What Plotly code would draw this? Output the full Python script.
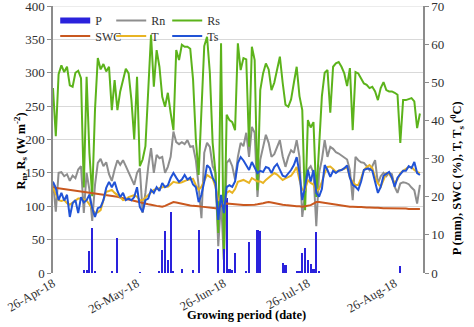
import pandas as pd
import plotly.graph_objects as go

# Daily series, 26 Apr 2018 onwards
start_date = "2018-04-26"
n_days = 132

# Net (Rn) and solar (Rs) radiation, W m-2
Rn = [137, 92, 150, 151, 145, 148, 138, 146, 142, 155, 160, 90, 150, 125, 78, 132, 165, 171, 160, 166,
      148, 138, 155, 169, 162, 169, 160, 150, 140, 132, 150, 157, 90, 120, 159, 187, 150, 177, 172, 174,
      150, 159, 174, 212, 196, 193, 196, 193, 199, 189, 190, 169, 130, 82, 180, 195, 189, 160, 150, 40,
      109, 20, 165, 170, 160, 140, 174, 195, 190, 210, 174, 219, 210, 114, 170, 189, 207, 195, 174, 178,
      190, 199, 175, 159, 174, 184, 180, 199, 174, 84, 120, 155, 160, 150, 70, 150, 170, 199, 174, 189,
      186, 181, 179, 176, 174, 170, 154, 109, 174, 169, 166, 165, 160, 154, 160, 169, 134, 145, 150, 145,
      150, 148, 129, 120, 134, 136, 135, 133, 128, 124, 104, 132]
Rs = [277, 205, 298, 311, 301, 309, 281, 279, 300, 303, 292, 128, 294, 180, 115, 245, 322, 305, 313, 302,
      309, 244, 289, 244, 272, 290, 306, 299, 259, 200, 294, 160, 170, 190, 280, 357, 279, 334, 309, 264,
      249, 270, 240, 214, 334, 319, 342, 339, 339, 336, 290, 200, 147, 234, 340, 354, 300, 195, 150, 60,
      344, 20, 237, 229, 226, 214, 344, 304, 322, 320, 189, 339, 319, 124, 274, 299, 314, 305, 274, 285,
      305, 324, 285, 252, 249, 260, 285, 309, 265, 244, 94, 229, 218, 226, 114, 190, 265, 300, 304, 240,
      309, 314, 316, 309, 299, 280, 307, 214, 301, 299, 292, 284, 282, 277, 279, 272, 259, 277, 286, 274,
      272, 272, 270, 267, 195, 259, 259, 260, 262, 257, 217, 239]

# Soil water content (%), air (T) and soil (Ts) temperature (deg C)
SWC = [22.4, 22.3, 22.2, 22.0, 21.9, 21.8, 21.7, 21.6, 21.5, 21.4, 21.3, 21.2, 21.1, 21.0, 20.9, 20.8,
       20.7, 20.6, 20.5, 20.4, 20.3, 20.2, 20.1, 20.0, 19.8, 19.6, 19.4, 19.2, 19.0, 18.9, 18.7, 18.6,
       18.4, 18.2, 18.0, 17.9, 17.7, 17.6, 17.5, 17.4, 17.6, 18.0, 18.4, 18.6, 18.5, 18.3, 18.1, 17.9,
       17.8, 17.7, 17.6, 17.6, 17.5, 17.4, 17.3, 17.2, 17.1, 17.1, 17.0, 17.0, 17.6, 18.1, 18.2, 18.1,
       18.0, 17.9, 17.9, 17.8, 17.8, 17.8, 17.8, 17.9, 17.9, 18.0, 18.1, 18.3, 18.5, 18.6, 18.5, 18.3,
       18.1, 18.0, 17.9, 17.8, 17.7, 17.6, 17.6, 17.5, 17.5, 17.4, 17.5, 17.6, 17.8, 18.2, 18.6, 18.6,
       18.5, 18.3, 18.1, 18.0, 17.9, 17.8, 17.7, 17.6, 17.5, 17.5, 17.4, 17.4, 17.3, 17.3, 17.3, 17.2,
       17.2, 17.2, 17.1, 17.1, 17.1, 17.0, 17.0, 17.0, 17.0, 17.0, 16.9, 16.9, 16.9, 16.9, 16.9, 16.8,
       16.8, 16.8, 16.8, 16.8]
T = [22.3, 20.5, 19.1, 18.9, 19.1, 18.3, 17.9, 18.5, 19.1, 19.5, 19.5, 19.3, 19.0, 18.0, 17.0, 15.7,
     15.9, 16.5, 19.1, 21.3, 21.5, 21.8, 21.0, 20.5, 19.9, 19.1, 19.3, 19.9, 20.2, 20.4, 20.0, 19.1,
     19.1, 19.8, 20.4, 21.0, 21.8, 22.0, 22.3, 22.5, 22.6, 22.6, 23.2, 23.9, 23.7, 23.6, 23.8, 24.2,
     24.4, 24.6, 24.7, 23.0, 21.8, 22.6, 24.0, 25.7, 25.2, 24.8, 22.6, 19.1, 19.5, 17.3, 21.0, 21.5,
     21.0, 22.0, 23.9, 24.2, 24.4, 24.0, 23.6, 24.9, 24.5, 24.0, 24.0, 23.6, 24.4, 25.0, 25.7, 26.2,
     25.8, 25.2, 24.4, 24.8, 25.2, 25.5, 26.5, 27.8, 24.4, 21.8, 21.8, 24.4, 23.6, 23.2, 21.5, 22.0,
     23.9, 26.2, 27.8, 27.9, 27.3, 26.5, 26.8, 27.0, 27.3, 27.8, 25.0, 23.9, 23.1, 23.1, 24.8, 27.0,
     27.8, 28.3, 27.5, 25.0, 23.5, 22.6, 24.5, 26.2, 26.0, 24.8, 23.6, 24.5, 26.2, 26.8, 27.3, 27.8,
     27.8, 27.0, 26.5, 26.2]
Ts = [23.9, 22.3, 19.1, 21.0, 19.0, 20.5, 14.7, 18.3, 19.1, 15.7, 19.9, 18.5, 19.1, 20.5, 17.0, 14.7,
      17.0, 17.3, 19.1, 22.3, 23.9, 22.5, 23.9, 21.5, 19.9, 21.0, 19.1, 19.5, 19.1, 19.9, 22.5, 17.3,
      16.0, 19.1, 19.5, 21.8, 21.0, 22.5, 21.5, 23.6, 22.5, 23.0, 24.9, 26.2, 25.0, 23.9, 24.5, 25.7,
      24.5, 25.0, 23.2, 22.5, 18.6, 20.5, 24.0, 28.3, 27.5, 25.0, 23.6, 13.9, 20.5, 15.7, 22.5, 23.0,
      22.6, 24.0, 28.8, 30.4, 29.5, 28.3, 27.0, 29.1, 27.5, 26.2, 26.8, 26.5, 27.8, 27.5, 26.2, 27.8,
      28.6, 26.8, 25.5, 25.2, 26.0, 27.0, 28.3, 30.4, 26.2, 19.1, 22.6, 27.0, 24.0, 27.0, 21.0, 20.0,
      22.0, 28.3, 27.0, 25.2, 26.8, 26.2, 26.8, 27.0, 27.5, 28.2, 25.0, 23.1, 22.6, 21.8, 24.0, 27.0,
      27.3, 27.3, 26.8, 24.0, 21.0, 22.6, 25.5, 26.0, 26.5, 25.0, 22.6, 25.0, 26.0, 26.8, 26.8, 28.0,
      27.5, 29.1, 26.2, 25.7]

# Precipitation events (mm)
P_dates = ["2018-05-07", "2018-05-08", "2018-05-09", "2018-05-10", "2018-05-11", "2018-05-17",
           "2018-05-19", "2018-05-27", "2018-06-03", "2018-06-04", "2018-06-05", "2018-06-06",
           "2018-06-07", "2018-06-08", "2018-06-11", "2018-06-15", "2018-06-17", "2018-06-24",
           "2018-06-26", "2018-06-27", "2018-06-28", "2018-06-29", "2018-06-30", "2018-07-04",
           "2018-07-05", "2018-07-08", "2018-07-09", "2018-07-17", "2018-07-18", "2018-07-22",
           "2018-07-23", "2018-07-24", "2018-07-25", "2018-07-26", "2018-07-27", "2018-07-28",
           "2018-07-29", "2018-07-30", "2018-08-28"]
P_mm = [0.8, 0.8, 5.8, 11.8, 0.3, 0.5, 9.2, 0.2, 0.4, 6.0, 10.9, 3.5, 15.9, 0.4, 1.0, 0.9, 11.3, 6.3,
        6.3, 19.6, 1.0, 0.8, 5.3, 0.6, 8.1, 11.3, 11.0, 2.6, 2.2, 0.4, 0.4, 5.3, 6.5, 3.5, 2.4, 1.0,
        10.8, 0.5, 1.9]

tick_dates = ["2018-04-26", "2018-05-26", "2018-06-26", "2018-07-26", "2018-08-26"]
tick_text = ["26-Apr-18", "26-May-18", "26-Jun-18", "26-Jul-18", "26-Aug-18"]

dates = pd.date_range(start_date, periods=n_days, freq="D")

SERIF = "Times New Roman, Liberation Serif, Tinos, serif"
C_P, C_RN, C_RS = "#2a22dc", "#8e8e8e", "#5cb31b"
C_SWC, C_T, C_TS = "#c9581f", "#e8b424", "#2153d6"
AXIS = "#8c8c8c"
TXT = "#303030"

fig = go.Figure()

# precipitation bars on the secondary axis
fig.add_trace(go.Bar(x=pd.to_datetime(P_dates), y=P_mm, yaxis="y2", marker_color=C_P,
                     marker_line_width=0, width=0.75 * 86400000, name="P",
                     legendgroup="P", showlegend=False))
# wide line used as the P key
fig.add_trace(go.Scatter(x=[None], y=[None], mode="lines", name="P", legendgroup="P",
                         line=dict(color=C_P, width=6), legend="legend"))

fig.add_trace(go.Scatter(x=dates, y=Rn, mode="lines", name="Rn",
                         line=dict(color=C_RN, width=2), legend="legend"))
fig.add_trace(go.Scatter(x=dates, y=Rs, mode="lines", name="Rs",
                         line=dict(color=C_RS, width=2), legend="legend"))
fig.add_trace(go.Scatter(x=dates, y=SWC, mode="lines", name="SWC", yaxis="y2",
                         line=dict(color=C_SWC, width=2), legend="legend2"))
fig.add_trace(go.Scatter(x=dates, y=T, mode="lines", name="T", yaxis="y2",
                         line=dict(color=C_T, width=2), legend="legend2"))
fig.add_trace(go.Scatter(x=dates, y=Ts, mode="lines", name="Ts", yaxis="y2",
                         line=dict(color=C_TS, width=2), legend="legend2"))

legend_style = dict(orientation="h", xanchor="left", yanchor="top",
                    bgcolor="rgba(0,0,0,0)", font=dict(family=SERIF, size=12, color=TXT),
                    entrywidth=11, entrywidthmode="pixels", itemwidth=30,
                    tracegroupgap=0)

x_end = pd.Timestamp(start_date) + pd.Timedelta(days=132.1)

fig.update_layout(
    width=474, height=327,
    margin=dict(l=53, r=51, t=6, b=54),
    paper_bgcolor="white", plot_bgcolor="white",
    font=dict(family=SERIF, size=12, color=TXT),
    bargap=0,
    legend=dict(x=0.006, y=1.0, **legend_style),
    legend2=dict(x=0.006, y=0.942, **legend_style),
    xaxis=dict(type="date", range=[pd.Timestamp(start_date), x_end], automargin=False,
               tickvals=pd.to_datetime(tick_dates), ticktext=tick_text, tickangle=-30,
               tickfont=dict(family=SERIF, size=12.5, color=TXT), ticks="",
               showgrid=False, showline=False, zeroline=False),
    yaxis=dict(range=[0, 400], dtick=50, showgrid=True, gridcolor="#d9d9d9", gridwidth=1,
               zeroline=False, showline=True, linecolor=AXIS, linewidth=1.5, automargin=False,
               ticks="outside", ticklen=4, tickcolor=AXIS, ticklabeloverflow="allow",
               tickfont=dict(family=SERIF, size=13, color=TXT)),
    yaxis2=dict(range=[0, 70], dtick=10, overlaying="y", side="right", showgrid=False,
                zeroline=False, showline=True, linecolor=AXIS, linewidth=1.5, automargin=False,
                ticks="outside", ticklen=4, tickcolor=AXIS, ticklabeloverflow="allow",
                tickfont=dict(family=SERIF, size=13, color=TXT)),
    shapes=[
        # top gridline at 400
        dict(type="line", xref="paper", yref="y", x0=0, x1=1, y0=400, y1=400,
             line=dict(color="#d9d9d9", width=1), layer="below"),
    ],
    annotations=[
        dict(text="<b>R<sub>n</sub>, R<sub>s</sub> (W m<sup>-2</sup>)</b>", textangle=-90,
             xref="paper", yref="paper", x=-0.089, y=0.455, xanchor="center", yanchor="middle",
             showarrow=False, font=dict(family=SERIF, size=12.5, color="black")),
        dict(text="<b>P (mm), SWC (%), T, T<sub>s</sub> (<sup>0</sup>C)</b>", textangle=-90,
             xref="paper", yref="paper", x=1.092, y=0.355, xanchor="center", yanchor="middle",
             showarrow=False, font=dict(family=SERIF, size=12.5, color="black")),
        dict(text="<b>Growing period (date)</b>", xref="paper", yref="paper",
             x=0.524, y=-0.157, xanchor="center", yanchor="middle", showarrow=False,
             font=dict(family=SERIF, size=12.5, color="black")),
    ],
)

fig.write_html("out.html")
